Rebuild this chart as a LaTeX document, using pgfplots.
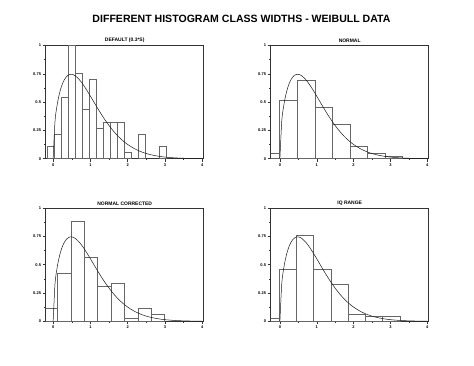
\documentclass[border=0pt]{standalone}
\usepackage{pgfplots}
\usepackage{pgfplotstable}
\pgfplotsset{compat=1.18}
\usepackage{fontspec}
\setmainfont{Liberation Sans}
\pgfplotstableread{
x y
0 0
0.05 0.3317
0.1 0.4596
0.15 0.5482
0.2 0.6134
0.25 0.6619
0.3 0.6971
0.35 0.7214
0.4 0.7367
0.45 0.7441
0.5 0.7448
0.55 0.7398
0.6 0.7300
0.7 0.6987
0.8 0.6560
0.9 0.6059
1.0 0.5518
1.1 0.4963
1.2 0.4414
1.3 0.3885
1.4 0.3387
1.5 0.2926
1.6 0.2507
1.7 0.2131
1.8 0.1799
1.9 0.1507
2.0 0.1254
2.2 0.0852
2.4 0.0564
2.6 0.0365
2.8 0.0232
3.0 0.0144
3.25 0.00772
3.5 0.00402
3.75 0.00204
4.0 0.00101
}\curvetable
\begin{document}
\begin{tikzpicture}
\path (0bp,0bp) rectangle (474bp,366bp);
\pgfplotsset{
  hist/.style={scale only axis, width=158bp, height=113.3bp, anchor=south west,
    ymin=0, ymax=1, xmax=4.04,
    xtick={0,1,2,3,4}, ytick={0,0.25,0.5,0.75,1},
    minor x tick num=1, minor y tick num=1,
    tick align=outside, tick pos=left,
    major tick length=3bp, minor tick length=1.5bp,
    tick label style={font=\bfseries\fontsize{4}{5}\selectfont, inner sep=1.5bp},
    /pgf/number format/assume math mode=true,
    title style={font=\bfseries\fontsize{5}{6}\selectfont, at={(0.5,1)}, anchor=south, inner sep=1bp, yshift=-4.5bp},
    axis line style={line width=0.5bp, black!80},
    every tick/.style={black!80, line width=0.4bp},
    clip=true,
  },
  bars/.style={ybar, bar shift=0pt, draw=black!60, fill=none, line width=0.5bp},
  curve/.style={black!90, line width=0.5bp, no marks, smooth},
}
\node[font=\bfseries\fontsize{10.6}{12}\selectfont] at (241.5bp,347bp) {DIFFERENT HISTOGRAM CLASS WIDTHS - WEIBULL DATA};
% Plot 1
\begin{axis}[hist, at={(45.7bp,207.3bp)}, xmin=-0.2, title={DEFAULT (0.3*S)}]
\addplot[bars, bar width=0.1876] coordinates {
(-0.0662,0.107) (0.1214,0.213) (0.309,0.538) (0.4966,1.0) (0.6842,0.752)
(0.8718,0.435) (1.0594,0.70) (1.247,0.267) (1.4346,0.320) (1.6222,0.320)
(1.8098,0.320) (1.9974,0.053) (2.3726,0.213) (2.9354,0.107)};
\addplot[curve] table {\curvetable};
\end{axis}
% Plot 2
\begin{axis}[hist, at={(270.7bp,207.3bp)}, xmin=-0.25, title={NORMAL}]
\addplot[bars, bar width=0.476] coordinates {
(-0.243,0.045) (0.233,0.518) (0.709,0.69) (1.185,0.453) (1.661,0.306)
(2.137,0.112) (2.613,0.044) (3.089,0.023)};
\addplot[curve] table {\curvetable};
\end{axis}
% Plot 3
\begin{axis}[hist, at={(45.7bp,44.7bp)}, xmin=-0.2, title={NORMAL CORRECTED}]
\addplot[bars, bar width=0.359] coordinates {
(-0.0625,0.114) (0.2965,0.424) (0.6555,0.886) (1.0145,0.561) (1.3735,0.31)
(1.7325,0.339) (2.0915,0.029) (2.4505,0.114) (2.8095,0.058)};
\addplot[curve] table {\curvetable};
\end{axis}
% Plot 4
\begin{axis}[hist, at={(270.7bp,44.7bp)}, xmin=-0.25, title={IQ RANGE}]
\addplot[bars, bar width=0.468] coordinates {
(-0.252,0.026) (0.216,0.456) (0.684,0.76) (1.152,0.456) (1.62,0.325)
(2.088,0.066) (2.556,0.042) (3.024,0.042)};
\addplot[curve] table {\curvetable};
\end{axis}
\end{tikzpicture}
\end{document}
